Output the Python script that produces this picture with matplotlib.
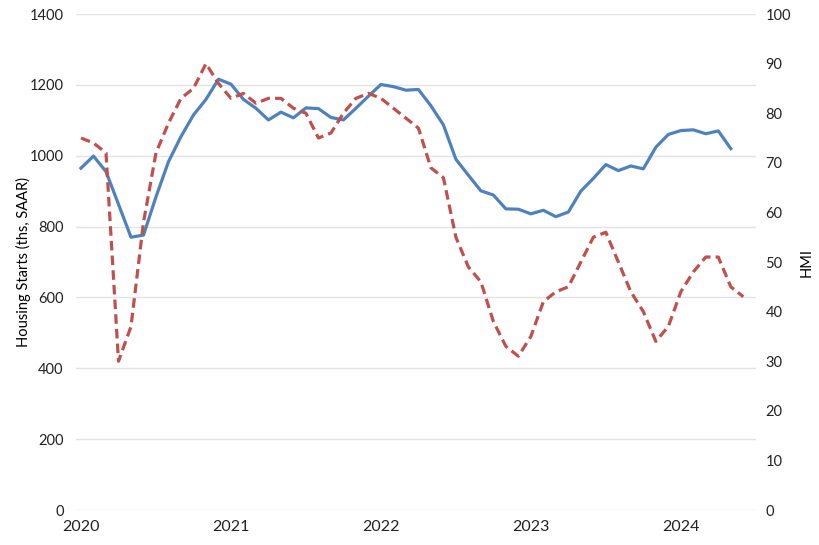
import matplotlib
matplotlib.use("Agg")
import matplotlib.pyplot as plt
import numpy as np

plt.rcParams['font.family'] = ['Lato', 'DejaVu Sans']

# monthly, Jan 2020 onwards
starts = [965, 999, 955, 863, 770, 776, 884, 983, 1054, 1115, 1159, 1216,
          1202, 1159, 1134, 1101, 1123, 1107, 1135, 1133, 1108, 1101, 1134, 1168,
          1201, 1195, 1185, 1187, 1141, 1087, 990, 945, 901, 889, 850, 849,
          836, 846, 828, 841, 900, 936, 975, 958, 971, 963, 1024, 1060,
          1071, 1073, 1062, 1070, 1020]
hmi = [75, 74, 72, 30, 37, 58, 72, 78, 83, 85, 90, 86,
       83, 84, 82, 83, 83, 81, 80, 75, 76, 80, 83, 84,
       83, 81, 79, 77, 69, 67, 55, 49, 46, 38, 33, 31,
       35, 42, 44, 45, 50, 55, 56, 50, 44, 40, 34, 37,
       44, 48, 51, 51, 45, 43]
year_labels = ['2020', '2021', '2022', '2023', '2024']

blue = '#4F81BD'
red = '#C0504D'

fig = plt.figure(figsize=(8.2, 5.45), dpi=100)
ax = fig.add_axes([0.0927, 0.0642, 0.829, 0.9101])
ax2 = ax.twinx()

ax.plot(np.arange(len(starts)), starts, color=blue, lw=2.3, zorder=3)
ax2.plot(np.arange(len(hmi)), hmi, color=red, lw=2.3, ls=(0, (3, 1.6)), zorder=3)

ax.set_ylim(0, 1400)
ax.set_yticks(range(0, 1401, 200))
ax2.set_ylim(0, 100)
ax2.set_yticks(range(0, 101, 10))
ax.set_xlim(-0.4, 54.0)
ax.set_xticks([0, 12, 24, 36, 48])
ax.set_xticklabels(year_labels)

ax.grid(axis='y', color='#e3e3e3', lw=1)
ax.set_axisbelow(True)
for a in (ax, ax2):
    for s in a.spines.values():
        s.set_visible(False)
    a.tick_params(length=0, labelsize=10.5, colors='#222222')
ax.tick_params(axis='x', labelsize=11.5, pad=7)
ax.tick_params(axis='y', pad=9)
ax2.tick_params(axis='y', pad=7)

ax.set_ylabel('Housing Starts (ths, SAAR)', fontsize=10.5, labelpad=-1)
ax2.set_ylabel('HMI', fontsize=10.5, rotation=90, labelpad=6)

fig.savefig('out.png', dpi=100)
